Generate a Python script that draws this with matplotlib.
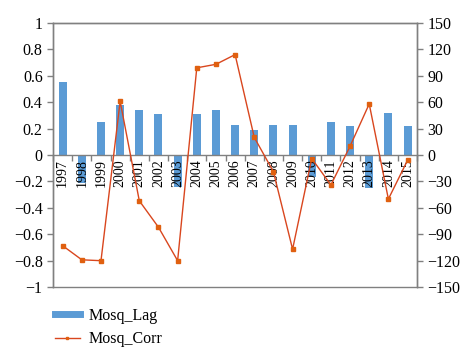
import numpy as np
import matplotlib.pyplot as plt
from matplotlib.lines import Line2D

years = [str(y) for y in range(1997, 2016)]
mosq_lag = [0.55, -0.21, 0.25, 0.38, 0.34, 0.31, -0.24, 0.31, 0.34, 0.23,
            0.19, 0.23, 0.23, -0.17, 0.25, 0.22, -0.25, 0.32, 0.22]
mosq_corr = [-103, -119, -120, 61, -52, -82, -120, 99, 103, 114,
             20, -19, -107, -4, -34, 10, 58, -50, -6]

bar_color = "#5b9bd5"
line_color = "#d9461e"
marker_color = "#e06010"
spine_color = "#808080"

plt.rcParams["font.family"] = ["Liberation Serif", "DejaVu Serif"]


def fmt(v, dec):
    if abs(v - round(v)) < 1e-9:
        s = str(int(round(v)))
    else:
        s = f"{v:.{dec}f}"
    return s.replace("-", "\u2212")


fig = plt.figure(figsize=(4.74, 3.58), dpi=100)
ax = fig.add_axes([0.112, 0.198, 0.768, 0.738])
x = np.arange(len(years))

ax.bar(x, mosq_lag, width=0.42, color=bar_color, zorder=2)
ax.set_axisbelow(False)
ax.set_xlim(-0.5, len(years) - 0.5)
ax.set_ylim(-1, 1)
yt = np.arange(-1, 1.01, 0.2)
ax.set_yticks(yt)
ax.set_yticklabels([fmt(v, 1) for v in yt])

# category axis sits on the zero line
ax.spines["bottom"].set_position(("data", 0))
ax.set_xticks(x)
ax.set_xticklabels(years, rotation=90, fontsize=10)
ax.set_xticks(np.arange(-0.5, len(years), 1), minor=True)
ax.tick_params(axis="x", which="major", length=0, pad=3)
ax.tick_params(axis="x", which="minor", length=4, color=spine_color, width=1)

ax2 = ax.twinx()
ax2.plot(x, mosq_corr, color=line_color, lw=1.0, marker="s", markersize=2.5,
         markerfacecolor=marker_color, markeredgecolor=marker_color, zorder=4)
ax2.set_ylim(-150, 150)
rt = np.arange(-150, 151, 30)
ax2.set_yticks(rt)
ax2.set_yticklabels([fmt(v, 0) for v in rt])

for a in (ax, ax2):
    for s in a.spines.values():
        s.set_color(spine_color)
        s.set_linewidth(1.0)
    a.tick_params(axis="y", labelsize=11.5, color=spine_color, length=4, width=1)

handles = [
    Line2D([0], [0], color=bar_color, lw=5),
    Line2D([0], [0], color=line_color, lw=1.0, marker="s", markersize=2,
           markerfacecolor=marker_color, markeredgecolor=marker_color),
]
fig.legend(handles, ["Mosq_Lag", "Mosq_Corr"], loc="upper left",
           bbox_to_anchor=(0.085, 0.18), frameon=False, fontsize=11.5,
           handlelength=1.6, labelspacing=0.45, handletextpad=0.55)

fig.savefig("out.png", dpi=100)
